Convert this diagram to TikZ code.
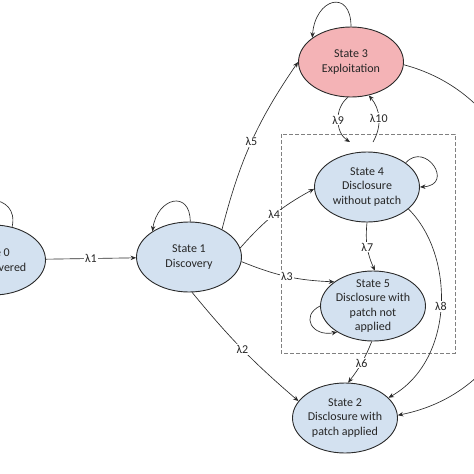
\documentclass[tikz,border=0pt]{standalone}
\usepackage{fontspec}
\setmainfont{Carlito}
\usetikzlibrary{shapes.geometric,arrows.meta,calc}
\definecolor{stblue}{HTML}{D3E1F0}
\definecolor{stpink}{HTML}{F4B3B6}
\definecolor{edgec}{HTML}{2A2A2A}
\begin{document}
\begin{tikzpicture}[x=1pt,y=1pt,
  st/.style={ellipse, draw=edgec, line width=0.9pt, fill=stblue, minimum width=105pt, minimum height=70pt, inner sep=0pt},
  txt/.style={align=center, font=\fontsize{12}{14.5}\selectfont, text=black!85},
  lbl/.style={fill=white, inner sep=1pt, font=\fontsize{12}{13}\selectfont, text=black!85},
  arr/.style={draw=edgec, line width=0.65pt, -{Stealth[length=5.5pt,width=4.5pt]}},
  boxst/.style={draw=gray, line width=0.6pt, dash pattern=on 4pt off 2pt}]
\clip (0,0) rectangle (474,-474);
\useasboundingbox (0,0) rectangle (474,-474);
\draw[boxst] (281,-134) rectangle (455,-353);
\node[st, label={[txt]center:{State 0\\Undiscovered}}] (s0) at (-7,-260) {};
\node[st, label={[txt]center:{State 1\\Discovery}}] (s1) at (189,-257) {};
\node[st, fill=stpink, label={[txt]center:{State 3\\Exploitation}}] (s3) at (351,-62) {};
\node[st, label={[txt]center:{State 4\\Disclosure\\without patch}}] (s4) at (367,-187) {};
\node[st, label={[txt]center:{State 5\\Disclosure with\\patch not\\applied}}] (s5) at (373,-306) {};
\node[st, label={[txt]center:{State 2\\Disclosure with\\patch applied}}] (s2) at (345,-418) {};
\coordinate (c9) at (350,-142);
\coordinate (c10) at (373,-142);
% edges
\draw[arr] (s0) -- node[lbl]{λ1} (s1);
\draw[arr] (s1.40) to[bend left=10] node[lbl]{λ5} (s3.180);
\draw[arr] (s1.10) to[bend left=10] node[lbl]{λ4} (s4.182);
\draw[arr] (s1.-5) to[bend right=10] node[lbl]{λ3} (s5.148);
\draw[arr] (s1.-85) to[bend right=5] node[lbl]{λ2} (s2.160);
\draw[arr] (s3.265) to[bend right=55] node[lbl]{λ9} (c9);
\draw[arr] (c10) to[bend right=35] node[lbl]{λ10} (s3.-62);
\draw[arr] (s4.-90) to[bend right=15] node[lbl]{λ7} (s5.87);
\draw[arr] (s5.-92) to[bend left=8] node[lbl]{λ6} (s2.85);
\draw[arr] (s4.-28) .. controls (455,-255) and (455,-360) .. node[lbl]{λ8} (s2.25);
\draw[arr] (s3.-3) .. controls (575,-110) and (575,-380) .. (s2.3);
% loops
\draw[arr] (s0.60) .. controls +(8,35) and +(-8,35) .. (s0.120);
\draw[arr] (s1.88) .. controls +(0,32) and +(5,34) .. (s1.145);
\draw[arr] (s3.90) .. controls +(0,38) and +(3,40) .. (s3.148);
\draw[arr] (s4.32) .. controls +(20,22) and +(35,2) .. (s4.0);
\draw[arr] (s5.180) .. controls +(-20,-10) and +(-25,-5) .. (s5.216);
\end{tikzpicture}
\end{document}
